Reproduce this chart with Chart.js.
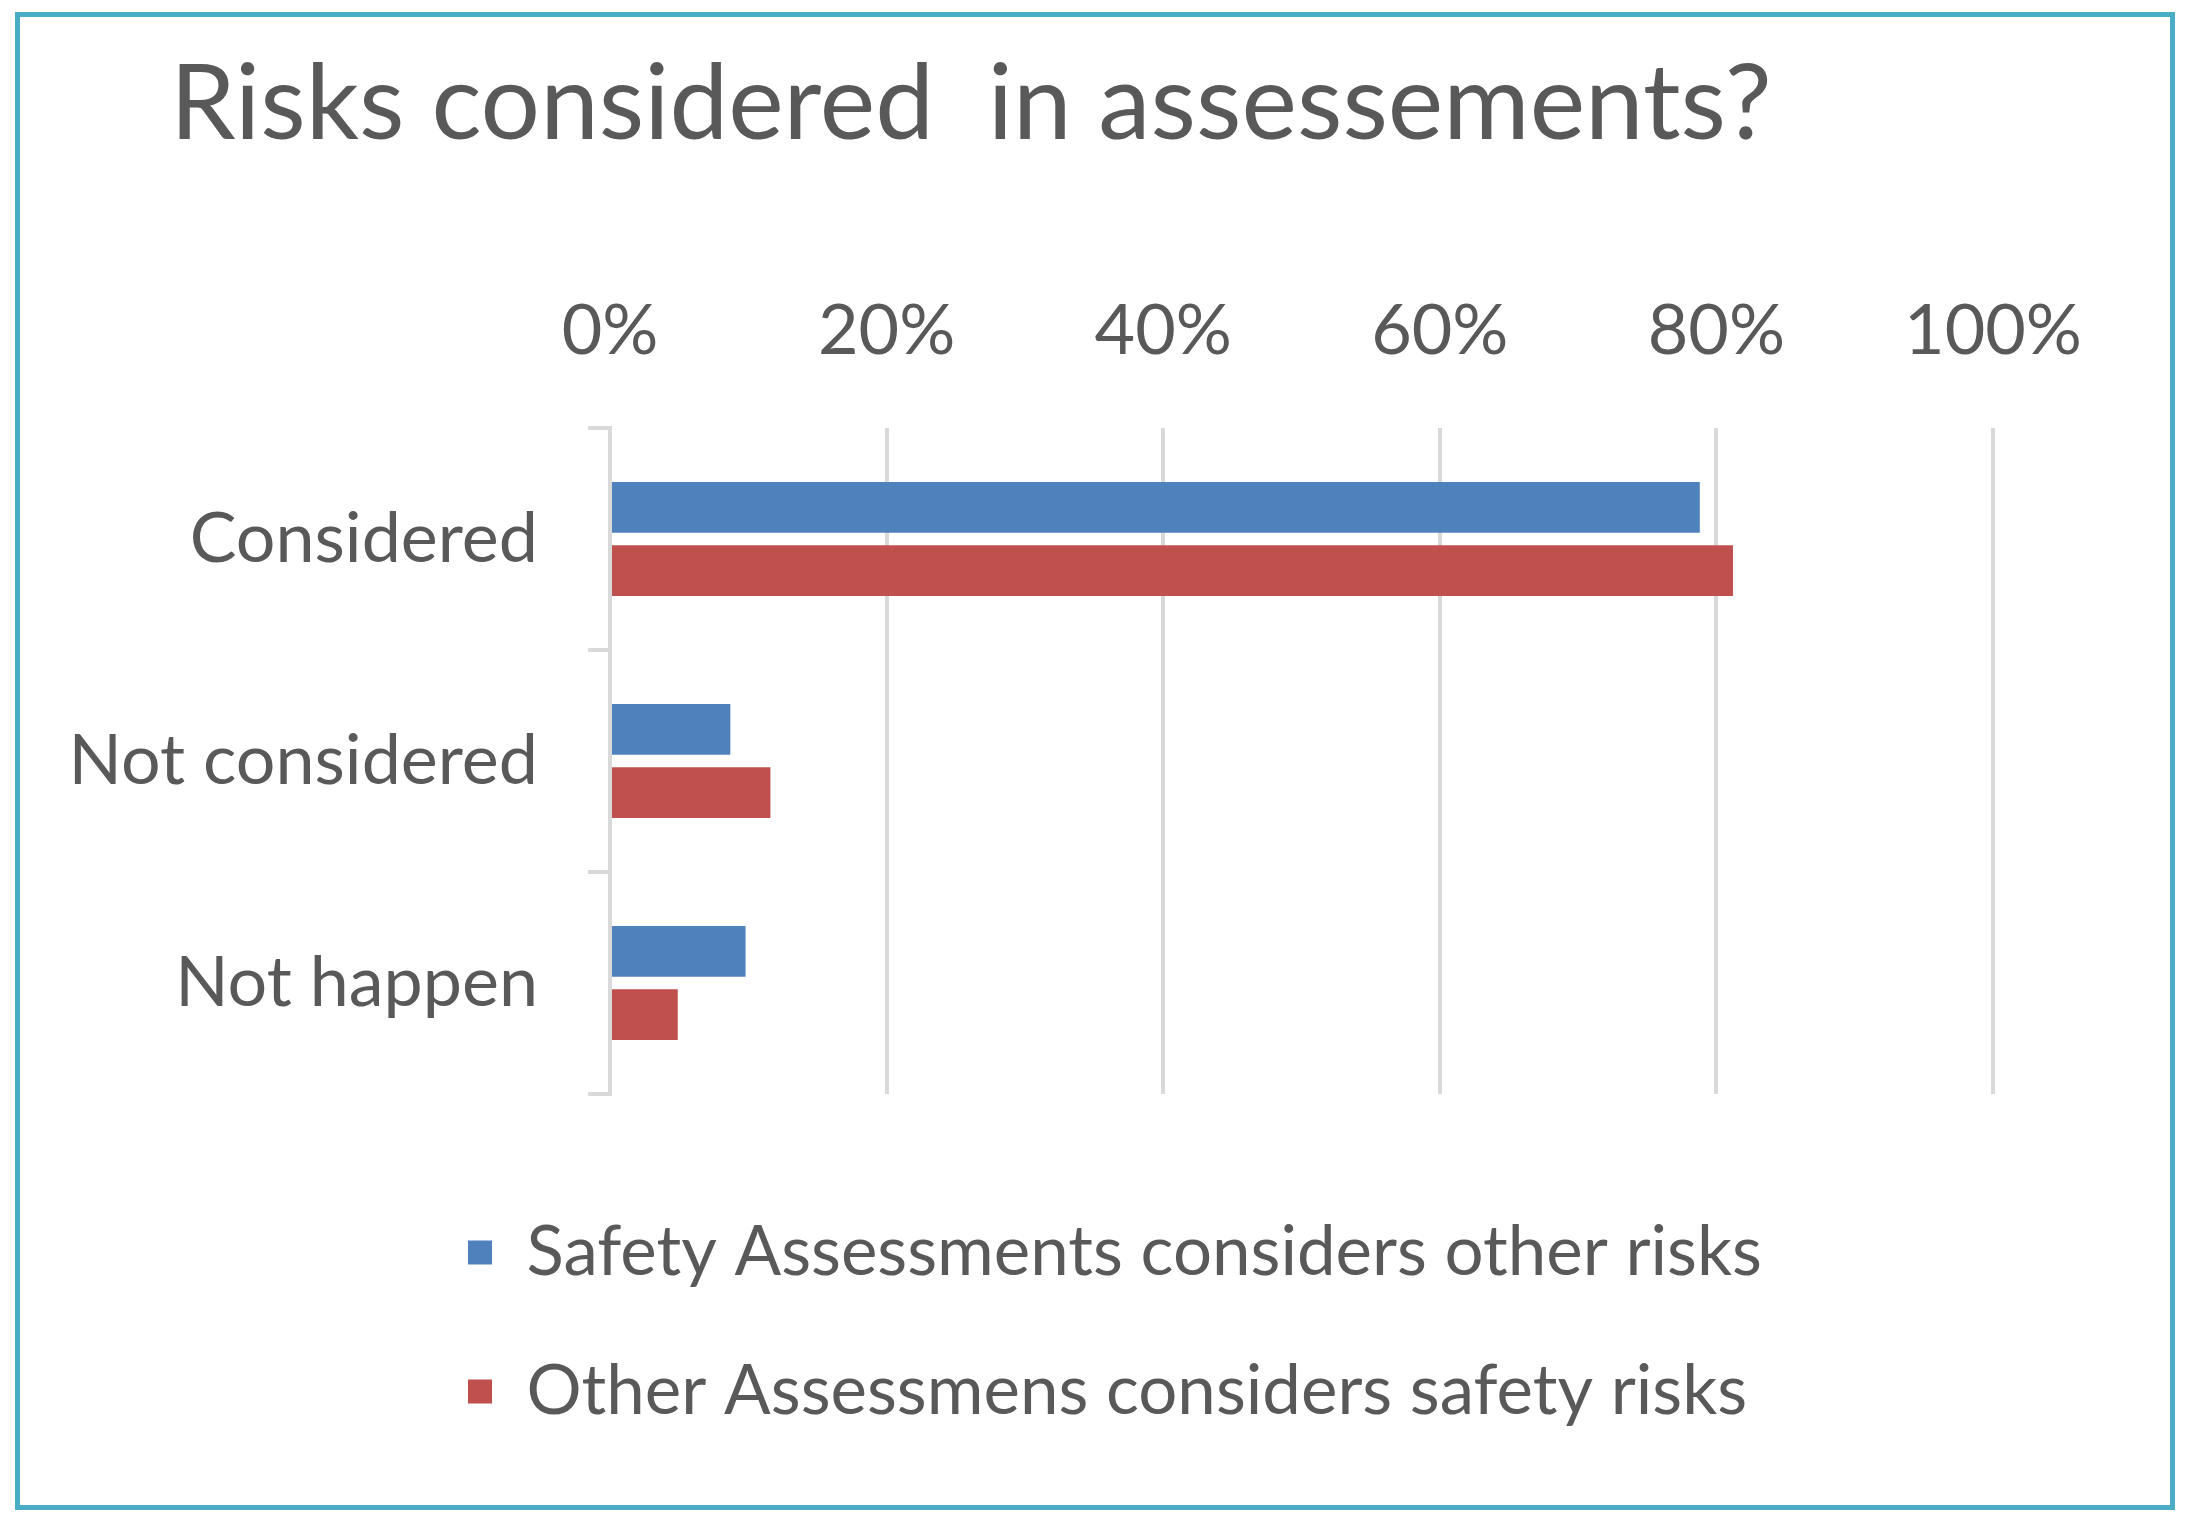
<!DOCTYPE html>
<html>
<head>
<meta charset="utf-8">
<script src="https://cdn.jsdelivr.net/npm/chart.js@4.4.1/dist/chart.umd.min.js"></script>
<style>
    body { margin: 0; background: #fff; }
    #wrap { position: relative; width: 2190px; height: 1528px; }
    #frame {
        position: absolute; left: 15px; top: 12px; width: 2160px; height: 1498px;
        border: 5px solid #4BACC6; box-sizing: border-box; pointer-events: none;
    }
    #title {
        position: absolute; left: 170px; top: 46px; margin: 0;
        font: 400 105px Lato, sans-serif; line-height: 1; color: #595959; white-space: pre;
    }
</style>
</head>
<body>
<div id="wrap">
    <canvas id="risks" width="2190" height="1528"></canvas>
    <div id="frame"></div>
    <h1 id="title">Risks considered  in assessements?</h1>
</div>
<script>
const categories = ['Considered', 'Not considered', 'Not happen'];
const seriesNames = ['Safety Assessments considers other risks', 'Other Assessmens considers safety risks'];
const safetyConsidersOther = [0.788, 0.087, 0.098];
const otherConsidersSafety = [0.812, 0.116, 0.049];

const textColor = '#595959';
const gridColor = '#D9D9D9';
const fontFamily = 'Lato, sans-serif';

// fixed legend height so the plot ends where the original does,
// and the legend rows start under the plot instead of at the page edge
const legendPlacement = {
    id: 'legendPlacement',
    beforeInit(chart) {
        const fit = chart.legend.fit;
        chart.legend.fit = function () {
            fit.call(this);
            this.height = 434;
        };
    },
    afterLayout(chart) {
        chart.legend.left = 398;
    }
};

new Chart(document.getElementById('risks'), {
    type: 'bar',
    data: {
        labels: categories,
        datasets: [
            {
                label: seriesNames[0],
                data: safetyConsidersOther,
                backgroundColor: '#4F81BD'
            },
            {
                label: seriesNames[1],
                data: otherConsidersSafety,
                backgroundColor: '#C0504D'
            }
        ]
    },
    options: {
        indexAxis: 'y',
        responsive: false,
        animation: false,
        devicePixelRatio: 1,
        categoryPercentage: 0.57,
        barPercentage: 0.8,
        layout: { padding: { left: 20, right: 197, top: 240, bottom: 0 } },
        scales: {
            x: {
                position: 'top',
                min: 0,
                max: 1,
                afterFit: scale => { scale.height = 188; },
                ticks: {
                    stepSize: 0.2,
                    padding: 55,
                    color: textColor,
                    font: { family: fontFamily, size: 70 },
                    callback: value => `${Math.round(value * 100)}%`
                },
                grid: { color: gridColor, lineWidth: 4, drawTicks: false },
                border: { display: false }
            },
            y: {
                afterFit: scale => { scale.width = 590; },
                ticks: {
                    padding: 50,
                    color: textColor,
                    font: { family: fontFamily, size: 70 }
                },
                grid: {
                    offset: true,
                    drawOnChartArea: false,
                    tickLength: 22,
                    color: gridColor,
                    lineWidth: 4
                },
                border: { color: gridColor, width: 4 }
            }
        },
        plugins: {
            title: { display: false },
            tooltip: { enabled: false },
            legend: {
                position: 'bottom',
                align: 'start',
                title: { display: true, text: '', padding: 0, font: { size: 45 } },
                labels: {
                    boxWidth: 24,
                    boxHeight: 24,
                    padding: 70,
                    color: textColor,
                    font: { family: fontFamily, size: 69 }
                }
            }
        }
    },
    plugins: [legendPlacement]
});
</script>
</body>
</html>
